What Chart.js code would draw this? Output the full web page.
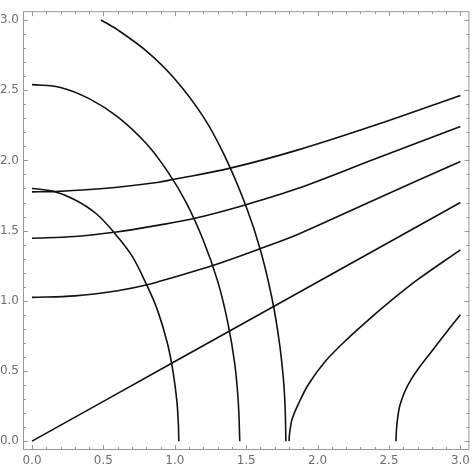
<!DOCTYPE html>
<html>
<head>
<meta charset="utf-8">
<script src="https://cdn.jsdelivr.net/npm/chart.js@4"></script>
<style>
  html, body { margin: 0; padding: 0; background: #fff; }
  #wrap { width: 474px; height: 470px; }
</style>
</head>
<body>
<div id="wrap"><canvas id="plot"></canvas></div>
<script>
// tick marks and labels
const tickValues = [0, 0.5, 1.0, 1.5, 2.0, 2.5, 3.0];
const tickLabels = ["0.0", "0.5", "1.0", "1.5", "2.0", "2.5", "3.0"];

// first family: curves leaving the y axis flat
const a0X = [0, 1.0, 2.0, 3.0];
const a0Y = [0, 0.567, 1.134, 1.70];
const a1X = [0, 0.3, 0.6, 0.8, 1.0, 1.26, 1.6, 1.864, 2.4, 3.0];
const a1Y = [1.024, 1.035, 1.072, 1.112, 1.17, 1.249, 1.372, 1.474, 1.72, 1.992];
const a2X = [0, 0.3, 0.576, 0.889, 1.133, 1.493, 1.864, 2.4, 3.0];
const a2Y = [1.446, 1.458, 1.488, 1.539, 1.586, 1.683, 1.801, 2.01, 2.242];
const a3X = [0, 0.158, 0.5, 0.889, 0.987, 1.389, 1.864, 2.4, 3.0];
const a3Y = [1.776, 1.778, 1.80, 1.845, 1.864, 1.945, 2.075, 2.25, 2.463];

// same family, branches rising from the x axis
const b1X = [1.80, 1.803, 1.81, 1.822, 1.864, 1.934, 2.05, 2.2, 2.41, 2.491, 2.7, 3.0];
const b1Y = [0, 0.05, 0.1, 0.16, 0.262, 0.402, 0.564, 0.72, 0.912, 0.982, 1.15, 1.363];
const b2X = [2.549, 2.552, 2.561, 2.575, 2.607, 2.655, 2.723, 2.816, 2.909, 3.0];
const b2Y = [0, 0.08, 0.169, 0.25, 0.345, 0.44, 0.541, 0.662, 0.785, 0.90];

// second family: arcs down to the x axis
const c1X = [0, 0.15, 0.30, 0.45, 0.58, 0.70, 0.80, 0.88, 0.95, 0.99, 1.015, 1.025, 1.028];
const c1Y = [1.80, 1.78, 1.72, 1.62, 1.48, 1.32, 1.12, 0.93, 0.69, 0.48, 0.28, 0.12, 0];
const c2X = [0, 0.2, 0.4, 0.6, 0.8, 0.95, 1.08, 1.2, 1.3, 1.37, 1.42, 1.445, 1.455];
const c2Y = [2.54, 2.52, 2.44, 2.31, 2.12, 1.92, 1.70, 1.43, 1.14, 0.85, 0.55, 0.27, 0];
const c3X = [0.483, 0.6, 0.8, 1.0, 1.2, 1.35, 1.5, 1.6, 1.68, 1.73, 1.76, 1.772, 1.778];
const c3Y = [3.0, 2.93, 2.78, 2.58, 2.31, 2.03, 1.67, 1.36, 1.02, 0.72, 0.45, 0.25, 0];

const curves = [
  [a0X, a0Y], [a1X, a1Y], [a2X, a2Y], [a3X, a3Y],
  [b1X, b1Y], [b2X, b2Y],
  [c1X, c1Y], [c2X, c2Y], [c3X, c3Y]
];

const datasets = curves.map(([xs, ys]) => ({
  data: xs.map((x, i) => ({ x: x, y: ys[i] })),
  showLine: true,
  borderColor: '#111',
  borderWidth: 1.6,
  pointRadius: 0,
  tension: 0.35,
  fill: false
}));

const frameColor = '#999';

// frame with inward ticks on all four sides, like the original
const framePlugin = {
  id: 'frame',
  afterDatasetsDraw(chart) {
    const { ctx, chartArea: a, scales: { x, y } } = chart;
    ctx.save();
    ctx.strokeStyle = frameColor;
    ctx.lineWidth = 1;
    ctx.strokeRect(a.left + 0.5, a.top + 0.5, a.right - a.left - 1, a.bottom - a.top - 1);
    ctx.beginPath();
    for (let k = 0; k <= 30; k++) {
      const v = k / 10;
      const len = k % 5 === 0 ? 5 : 3;
      const px = Math.round(x.getPixelForValue(v)) + 0.5;
      const py = Math.round(y.getPixelForValue(v)) + 0.5;
      ctx.moveTo(px, a.bottom); ctx.lineTo(px, a.bottom - len);
      ctx.moveTo(px, a.top); ctx.lineTo(px, a.top + len);
      ctx.moveTo(a.left, py); ctx.lineTo(a.left + len, py);
      ctx.moveTo(a.right, py); ctx.lineTo(a.right - len, py);
    }
    ctx.stroke();
    ctx.restore();
  }
};

function axis(pos) {
  return {
    type: 'linear',
    position: pos,
    min: -0.063,
    max: 3.063,
    afterBuildTicks: (scale) => {
      scale.ticks = tickValues.map(v => ({ value: v }));
    },
    afterFit: (scale) => {
      if (pos === 'left') scale.width = 23;
      else scale.height = 20;
    },
    grid: { display: false, drawTicks: false },
    border: { display: false },
    ticks: {
      padding: 4,
      color: '#6e6e6e',
      font: { family: 'DejaVu Sans', size: 12 },
      maxRotation: 0,
      autoSkip: false,
      callback: (value, i) => tickLabels[i]
    }
  };
}

new Chart(document.getElementById('plot'), {
  type: 'scatter',
  data: { datasets: datasets },
  options: {
    responsive: true,
    maintainAspectRatio: false,
    animation: false,
    layout: { padding: { top: 1, right: 2, left: 0, bottom: 0 } },
    plugins: {
      legend: { display: false },
      tooltip: { enabled: false }
    },
    scales: {
      x: axis('bottom'),
      y: axis('left')
    }
  },
  plugins: [framePlugin]
});
</script>
</body>
</html>
